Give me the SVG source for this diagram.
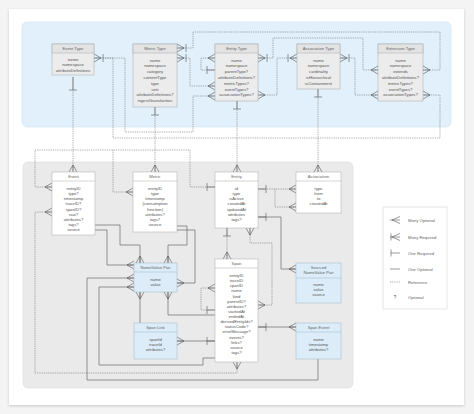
<svg xmlns="http://www.w3.org/2000/svg" width="474" height="414" viewBox="0 0 474 414">
<style>
text{font-family:"Liberation Sans",Arial,sans-serif;font-size:4.2px;fill:#555;text-anchor:middle}
.h{fill:#666}
.tb{fill:#ececec;stroke:#a8a8a8;stroke-width:0.5}
.th{fill:#e3e3e3;stroke:#a8a8a8;stroke-width:0.5}
.wb{fill:#fff;stroke:#aaa;stroke-width:0.5}
.bb{fill:#dcedf9;stroke:#9db6c8;stroke-width:0.5}
.d{fill:none;stroke:#666;stroke-width:0.6;stroke-dasharray:0.9 0.9}
.s{fill:none;stroke:#555;stroke-width:0.6}
.lg{text-anchor:start;fill:#666}
</style>
<defs>
<filter id="sh" x="-5%" y="-5%" width="110%" height="110%"><feDropShadow dx="0" dy="1" stdDeviation="1.5" flood-color="#000" flood-opacity="0.18"/></filter>
<marker id="mo" markerUnits="userSpaceOnUse" orient="auto-start-reverse" overflow="visible" markerWidth="1" markerHeight="1"><path d="M-7,0L0,-4M-7,0L0,0M-7,0L0,4" fill="none" stroke="#555" stroke-width="0.6"/></marker>
<marker id="mr" markerUnits="userSpaceOnUse" orient="auto-start-reverse" overflow="visible" markerWidth="1" markerHeight="1"><path d="M-7,0L0,-4M-7,0L0,0M-7,0L0,4M-9,-4L-9,4" fill="none" stroke="#555" stroke-width="0.6"/></marker>
<marker id="one" markerUnits="userSpaceOnUse" orient="auto-start-reverse" overflow="visible" markerWidth="1" markerHeight="1"><path d="M-8,-4L-8,4M-8,0L0,0" fill="none" stroke="#555" stroke-width="0.6"/></marker>
</defs>
<rect width="474" height="414" fill="#f4f4f4"/>
<rect x="9" y="9" width="455" height="396" fill="#fff" filter="url(#sh)"/>
<rect x="22" y="22" width="429" height="105" rx="5" fill="#e1f0fb" stroke="#cfe2f1" stroke-width="0.6"/>
<rect x="23" y="162" width="330" height="226" rx="5" fill="#ebeaea" stroke="#dcdcdc" stroke-width="0.6"/>

<g id="connectors">
<path class="d" d="M94,58H125V132H193V96H215" marker-start="url(#mr)" marker-end="url(#mo)"/>
<path class="d" d="M103,58H113V138H440V95H423" marker-end="url(#mo)"/>
<path class="d" d="M177,48H193V32H440V70H423" marker-start="url(#mr)" marker-end="url(#mo)"/>
<path class="d" d="M177,58H190V86H215" marker-start="url(#mr)" marker-end="url(#mo)"/>
<path class="d" d="M215,58H201V70H215" marker-start="url(#mo)" marker-end="url(#one)"/>
<path class="d" d="M258,58H273V38H363V70H378" marker-start="url(#mr)" marker-end="url(#mo)"/>
<path class="d" d="M258,95H277V58H297" marker-start="url(#mo)" marker-end="url(#mr)"/>
<path class="d" d="M340,58H355V95H378" marker-start="url(#mr)" marker-end="url(#mo)"/>
<path class="d" d="M73,77V172" marker-end="url(#mo)"/>
<path class="s" d="M73,77V90M69,90H77"/>
<path class="d" d="M155,107V172" marker-start="url(#one)" marker-end="url(#mo)"/>
<path class="d" d="M237,101V172" marker-start="url(#one)" marker-end="url(#mo)"/>
<path class="d" d="M318,89V172" marker-start="url(#one)" marker-end="url(#mo)"/>

<path class="d" d="M215,187H190V150H35V187H52" marker-start="url(#one)" marker-end="url(#mo)"/>
<path class="d" d="M113,150V192H133" marker-end="url(#mo)"/>
<path class="d" d="M258,189H296" marker-start="url(#one)" marker-end="url(#mo)"/>
<path class="d" d="M275,189V207H296" marker-end="url(#mo)"/>
<path class="d" d="M227,228V259" marker-start="url(#one)" marker-end="url(#mo)"/>
<path class="d" d="M250,228V243H272V305H258" marker-start="url(#mo)" marker-end="url(#mo)"/>
<path class="d" d="M52,212H35V373H237V362" marker-start="url(#mo)" marker-end="url(#mo)"/>
<path class="d" d="M215,288H201V310H215" marker-start="url(#mo)" marker-end="url(#one)"/>

<path class="s" d="M258,217H281V269H296" marker-start="url(#one)" marker-end="url(#mo)"/>
<path class="s" d="M95,225H120V245H140V263" marker-end="url(#mo)"/>
<path class="s" d="M95,230H107V265H134" marker-end="url(#mo)"/>
<path class="s" d="M177,226H187V245H168V263" marker-end="url(#mo)"/>
<path class="s" d="M177,230H195V283H177" marker-end="url(#mo)"/>
<path class="s" d="M318,358V380H87V278H134" marker-end="url(#mo)"/>
<path class="s" d="M215,358H203V365H99V287H134" marker-end="url(#mo)"/>
<path class="s" d="M140,292V323" marker-start="url(#mo)"/>
<path class="s" d="M168,292V315H215" marker-start="url(#mo)"/>
<path class="s" d="M177,341H215" marker-start="url(#mo)" marker-end="url(#one)"/>
<path class="s" d="M258,327H296" marker-start="url(#one)" marker-end="url(#mo)"/>
</g>

<g id="event-type"><rect class="tb" x="52" y="44" width="42" height="31"/><rect class="th" x="52" y="44" width="42" height="9"/><text class="h" x="73" y="50">Event Type</text><text x="73" y="61">name</text><text x="73" y="66.3">namespace</text><text x="73" y="71.6">attributeDefinitions</text></g>
<g id="metric-type"><rect class="tb" x="133" y="44" width="44" height="63"/><rect class="th" x="133" y="44" width="44" height="9"/><text class="h" x="155" y="50">Metric Type</text><text x="155" y="61.5">name</text><text x="155" y="67.3">namespace</text><text x="155" y="73.1">category</text><text x="155" y="78.9">contentType</text><text x="155" y="84.7">type</text><text x="155" y="90.5">unit</text><text x="155" y="96.3">attributeDefinitions?</text><text x="155" y="102.1">ingestGranularities</text></g>
<g id="entity-type"><rect class="tb" x="215" y="44" width="43" height="57"/><rect class="th" x="215" y="44" width="43" height="9"/><text class="h" x="236.5" y="50">Entity Type</text><text x="236.5" y="61.5">name</text><text x="236.5" y="67.3">namespace</text><text x="236.5" y="73.1">parentType?</text><text x="236.5" y="78.9">attributeDefinitions?</text><text x="236.5" y="84.7">metricTypes?</text><text x="236.5" y="90.5">eventTypes?</text><text x="236.5" y="96.3">associationTypes?</text></g>
<g id="association-type"><rect class="tb" x="297" y="44" width="43" height="45"/><rect class="th" x="297" y="44" width="43" height="9"/><text class="h" x="318.5" y="50">Association Type</text><text x="318.5" y="61.5">name</text><text x="318.5" y="67.3">namespace</text><text x="318.5" y="73.1">cardinality</text><text x="318.5" y="78.9">isHierarchical</text><text x="318.5" y="84.7">isContainment</text></g>
<g id="extension-type"><rect class="tb" x="378" y="44" width="45" height="57"/><rect class="th" x="378" y="44" width="45" height="9"/><text class="h" x="400.5" y="50">Extension Type</text><text x="400.5" y="61.5">name</text><text x="400.5" y="67.3">namespace</text><text x="400.5" y="73.1">extends</text><text x="400.5" y="78.9">attributeDefinitions?</text><text x="400.5" y="84.7">metricTypes?</text><text x="400.5" y="90.5">eventTypes?</text><text x="400.5" y="96.3">associationTypes?</text></g>

<g id="event"><rect class="wb" x="52" y="172" width="43" height="63"/><line x1="52" y1="181" x2="95" y2="181" stroke="#aaa" stroke-width="0.5"/><text class="h" x="73.5" y="178">Event</text><text x="73.5" y="190">entityID</text><text x="73.5" y="195.1">type?</text><text x="73.5" y="200.3">timestamp</text><text x="73.5" y="205.4">traceID?</text><text x="73.5" y="210.5">spanID?</text><text x="73.5" y="215.7">raw?</text><text x="73.5" y="220.8">attributes?</text><text x="73.5" y="225.9">tags?</text><text x="73.5" y="231">source</text></g>
<g id="metric"><rect class="wb" x="133" y="172" width="44" height="60"/><line x1="133" y1="181" x2="177" y2="181" stroke="#aaa" stroke-width="0.5"/><text class="h" x="155" y="178">Metric</text><text x="155" y="190">entityID</text><text x="155" y="195.1">type</text><text x="155" y="200.3">timestamp</text><text x="155" y="205.4">(consumption</text><text x="155" y="210.5">function)</text><text x="155" y="215.7">attributes?</text><text x="155" y="220.8">tags?</text><text x="155" y="225.9">source</text></g>
<g id="entity"><rect class="wb" x="215" y="172" width="43" height="56"/><line x1="215" y1="181" x2="258" y2="181" stroke="#aaa" stroke-width="0.5"/><text class="h" x="236.5" y="178">Entity</text><text x="236.5" y="190">id</text><text x="236.5" y="195.1">type</text><text x="236.5" y="200.3">isActive</text><text x="236.5" y="205.4">createdAt</text><text x="236.5" y="210.5">updatedAt</text><text x="236.5" y="215.7">attributes</text><text x="236.5" y="220.8">tags?</text></g>
<g id="association"><rect class="wb" x="296" y="172" width="45" height="41"/><line x1="296" y1="181" x2="341" y2="181" stroke="#aaa" stroke-width="0.5"/><text class="h" x="318.5" y="178">Association</text><text x="318.5" y="190">type</text><text x="318.5" y="195.1">from</text><text x="318.5" y="200.3">to</text><text x="318.5" y="205.4">createdAt</text></g>
<g id="namevalue-pair"><rect class="bb" x="134" y="263" width="43" height="29"/><line x1="134" y1="272" x2="177" y2="272" stroke="#9db6c8" stroke-width="0.5"/><text class="h" x="155.5" y="269">NameValue Pair</text><text x="155.5" y="281">name</text><text x="155.5" y="286.1">value</text></g>
<g id="span-link"><rect class="bb" x="134" y="323" width="43" height="36"/><line x1="134" y1="332" x2="177" y2="332" stroke="#9db6c8" stroke-width="0.5"/><text class="h" x="155.5" y="329">Span Link</text><text x="155.5" y="341">spanId</text><text x="155.5" y="346.1">traceId</text><text x="155.5" y="351.3">attributes?</text></g>
<g id="span"><rect class="wb" x="215" y="259" width="43" height="103"/><line x1="215" y1="268" x2="258" y2="268" stroke="#aaa" stroke-width="0.5"/><text class="h" x="236.5" y="265">Span</text><text x="236.5" y="277">entityID</text><text x="236.5" y="282.1">traceID</text><text x="236.5" y="287.3">spanID</text><text x="236.5" y="292.4">name</text><text x="236.5" y="297.5">kind</text><text x="236.5" y="302.7">parentID?</text><text x="236.5" y="307.8">attributes?</text><text x="236.5" y="312.9">startedAt</text><text x="236.5" y="318">endedAt</text><text x="236.5" y="323.2">derivedEntityIds?</text><text x="236.5" y="328.3">statusCode?</text><text x="236.5" y="333.4">errorMessage?</text><text x="236.5" y="338.6">events?</text><text x="236.5" y="343.7">links?</text><text x="236.5" y="348.8">source</text><text x="236.5" y="354">tags?</text></g>
<g id="sourced-namevalue-pair"><rect class="bb" x="296" y="263" width="45" height="40"/><line x1="296" y1="278" x2="341" y2="278" stroke="#9db6c8" stroke-width="0.5"/><text class="h" x="318.5" y="269">Sourced</text><text class="h" x="318.5" y="274">NameValue Pair</text><text x="318.5" y="286">name</text><text x="318.5" y="291.1">value</text><text x="318.5" y="296.3">source</text></g>
<g id="span-event"><rect class="bb" x="296" y="323" width="45" height="36"/><line x1="296" y1="332" x2="341" y2="332" stroke="#9db6c8" stroke-width="0.5"/><text class="h" x="318.5" y="329">Span Event</text><text x="318.5" y="341">name</text><text x="318.5" y="346.1">timestamp</text><text x="318.5" y="351.3">attributes?</text></g>

<g id="legend">
<rect x="383" y="207" width="64" height="102" fill="#fff" stroke="#ccc" stroke-width="0.5"/>
<path class="s" d="M390,220H400M392,220L400,216.5M392,220L400,223.5"/>
<text class="lg" x="408" y="221.5">Many Optional</text>
<path class="s" d="M390,237H400M392,237L400,233.5M392,237L400,240.5M391,233.5V240.5"/>
<text class="lg" x="408" y="238.5">Many Required</text>
<path class="s" d="M391,253H400M391,249.5V256.5"/>
<text class="lg" x="408" y="254.5">One Required</text>
<path class="s" d="M390,269H400"/>
<text class="lg" x="408" y="270.5">One Optional</text>
<path class="d" d="M390,282H400"/>
<text class="lg" x="408" y="283.5">Reference</text>
<text x="395" y="298.5" style="font-size:5px">?</text>
<text class="lg" x="408" y="298.5">Optional</text>
</g>
</svg>
